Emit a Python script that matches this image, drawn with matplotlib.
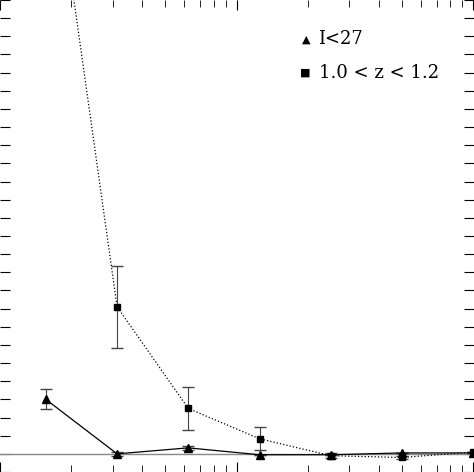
import matplotlib
matplotlib.use("Agg")
import matplotlib.pyplot as plt
from matplotlib.ticker import MultipleLocator, LogLocator, NullFormatter

x = [1.5625, 3.125, 6.25, 12.5, 25, 50, 100]
tri_y = [0.30, 0.0, 0.033, -0.005, -0.005, 0.005, 0.005]
tri_err = [0.055, 0.012, 0.01, 0.0, 0.0, 0.0, 0.0]
sq_y = [3.6, 0.81, 0.25, 0.083, -0.01, -0.02, 0.01]
sq_err = [0.0, 0.225, 0.12, 0.063, 0.012, 0.01, 0.0]

fig = plt.figure(figsize=(4.74, 4.72), dpi=100)
ax = fig.add_axes([0, 0, 1, 1])
ax.set_xscale('log')
ax.set_xlim(1, 100.8)
ax.set_ylim(-0.1, 2.5)
ax.axhline(0, color='#888888', lw=1)
ax.errorbar(x, sq_y, yerr=sq_err, fmt='s', ls=':', color='black', ms=5, lw=0.9,
            elinewidth=0.8, ecolor='#444444', capsize=4)
ax.errorbar(x, tri_y, yerr=tri_err, fmt='^', ls='-', color='black', ms=6, lw=0.9,
            elinewidth=0.8, ecolor='#444444', capsize=4)
ax.yaxis.set_major_locator(MultipleLocator(0.1))
ax.xaxis.set_major_locator(LogLocator(base=10))
ax.xaxis.set_minor_locator(LogLocator(base=10, subs=range(2, 10)))
ax.xaxis.set_major_formatter(NullFormatter())
ax.xaxis.set_minor_formatter(NullFormatter())
ax.yaxis.set_major_formatter(NullFormatter())
ax.tick_params(which='both', direction='in', top=True, right=True)
ax.tick_params(which='major', length=7)
ax.tick_params(which='minor', length=5)
for s in ax.spines.values():
    s.set_visible(False)

fig.text(0.645, 0.917, '▲', fontsize=8, va='center', ha='center', family='DejaVu Sans')
fig.text(0.672, 0.917, 'I<27', fontsize=13, va='center', family='DejaVu Serif')
fig.text(0.645, 0.846, '■', fontsize=8, va='center', ha='center', family='DejaVu Sans')
fig.text(0.672, 0.846, '1.0 < z < 1.2', fontsize=13, va='center', family='DejaVu Serif')
fig.savefig('out.png', dpi=100)
